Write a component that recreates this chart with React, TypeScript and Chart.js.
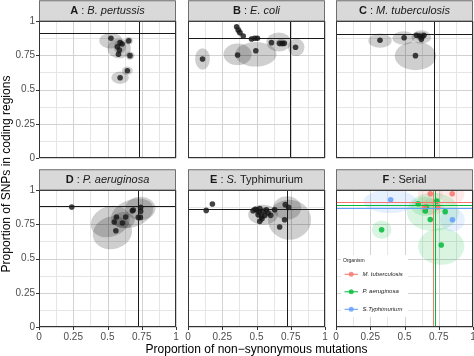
import React, { useEffect, useRef } from 'react';
import { Chart, registerables } from 'chart.js';
Chart.register(...registerables);

const FONT = '"Liberation Sans", Arial, Helvetica, sans-serif';
const PAGE_W = 474;
const PAGE_H = 356;
const COL_LEFT = [39, 188, 336];
const ROW_TOP = [21, 190];
const PANEL_W = 137;
const PANEL_H = 137;
const STRIP_H = 20.7;

const xTickLabels = ['0', '0.25', '0.5', '0.75', '1'];
const yTickLabels = ['0', '0.25', '0.5', '0.75', '1'];
const gridValues = [0, 0.125, 0.25, 0.375, 0.5, 0.625, 0.75, 0.875, 1];

// ellipse rows: [centerX, centerY, radiusX, radiusY, rotationDeg]
// reference rows: [vertical x, horizontal y]

// A: B. pertussis
const pertussisX = [0.525, 0.592, 0.607, 0.655, 0.573, 0.587, 0.58, 0.664, 0.645, 0.592];
const pertussisY = [0.874, 0.842, 0.832, 0.856, 0.812, 0.788, 0.757, 0.747, 0.637, 0.586];
const pertussisEll = [
  [0.525, 0.856, 0.085, 0.057, 0], [0.585, 0.8, 0.085, 0.073, 0], [0.59, 0.81, 0.045, 0.05, 0],
  [0.655, 0.856, 0.03, 0.028, 0], [0.664, 0.747, 0.033, 0.03, 0], [0.645, 0.637, 0.04, 0.03, 0],
  [0.592, 0.586, 0.064, 0.045, 0],
];
const pertussisRef = [0.73, 0.91];

// B: E. coli
const coliX = [0.355, 0.367, 0.379, 0.403, 0.464, 0.488, 0.507, 0.609, 0.669, 0.688, 0.703, 0.785, 0.495, 0.362, 0.106];
const coliY = [0.958, 0.934, 0.915, 0.891, 0.869, 0.874, 0.874, 0.842, 0.837, 0.837, 0.837, 0.808, 0.783, 0.752, 0.723];
const coliEll = [
  [0.106, 0.723, 0.054, 0.079, 0], [0.362, 0.757, 0.103, 0.079, 0], [0.495, 0.757, 0.151, 0.09, 0],
  [0.662, 0.847, 0.09, 0.069, 0], [0.79, 0.808, 0.06, 0.064, 0], [0.37, 0.93, 0.025, 0.045, -30],
  [0.48, 0.872, 0.04, 0.02, 0], [0.68, 0.84, 0.04, 0.03, 0],
];
const coliRef = [0.746, 0.878];

// C: M. tuberculosis
const tbX = [0.321, 0.497, 0.587, 0.611, 0.628, 0.642, 0.623, 0.58];
const tbY = [0.859, 0.878, 0.896, 0.891, 0.883, 0.896, 0.866, 0.747];
const tbEll = [
  [0.321, 0.856, 0.085, 0.052, 0], [0.493, 0.876, 0.082, 0.049, 0], [0.623, 0.883, 0.072, 0.049, 0],
  [0.58, 0.745, 0.151, 0.104, 0], [0.615, 0.89, 0.04, 0.03, 0],
];
const tbRef = [0.712, 0.903];

// D: P. aeruginosa
const aeruX = [0.239, 0.565, 0.549, 0.609, 0.633, 0.561, 0.681, 0.742, 0.742, 0.725, 0.74, 0.688];
const aeruY = [0.876, 0.803, 0.766, 0.759, 0.803, 0.703, 0.849, 0.873, 0.844, 0.8, 0.8, 0.854];
const aeruEll = [
  [0.536, 0.688, 0.145, 0.119, -15], [0.52, 0.77, 0.147, 0.11, -20], [0.68, 0.83, 0.16, 0.1, -20],
  [0.74, 0.865, 0.11, 0.085, 0], [0.62, 0.78, 0.08, 0.06, 0],
];
const aeruRef = [0.725, 0.882];

// E: S. Typhimurium
const typhiX = [0.133, 0.178, 0.475, 0.5, 0.524, 0.548, 0.572, 0.584, 0.512, 0.536, 0.56, 0.604, 0.633, 0.71, 0.734, 0.705, 0.669, 0.49, 0.52, 0.524, 0.54];
const typhiY = [0.851, 0.898, 0.849, 0.856, 0.864, 0.844, 0.856, 0.832, 0.82, 0.807, 0.815, 0.815, 0.856, 0.893, 0.873, 0.783, 0.73, 0.86, 0.84, 0.771, 0.79];
const typhiEll = [
  [0.741, 0.783, 0.157, 0.146, 0], [0.723, 0.869, 0.103, 0.085, 0], [0.548, 0.82, 0.109, 0.073, 0],
  [0.55, 0.83, 0.06, 0.04, 0],
];
const typhiRef = [0.722, 0.858];

// F: Serial
const serialTbX = [0.688, 0.848, 0.647, 0.743];
const serialTbY = [0.973, 0.973, 0.876, 0.876];
const serialTbEll = [[0.688, 0.97, 0.09, 0.09, 0], [0.848, 0.97, 0.09, 0.08, 0], [0.7, 0.876, 0.09, 0.06, 0]];
const serialTbRef = [0.705, 0.913];

const serialAeruX = [0.6, 0.66, 0.736, 0.652, 0.797, 0.688, 0.333, 0.768];
const serialAeruY = [0.9, 0.876, 0.92, 0.847, 0.842, 0.785, 0.71, 0.599];
const serialAeruEll = [
  [0.768, 0.588, 0.169, 0.134, 0], [0.333, 0.71, 0.072, 0.067, 0], [0.707, 0.84, 0.19, 0.14, 0],
  [0.65, 0.88, 0.1, 0.07, 0],
];
const serialAeruRef = [0.722, 0.89];

const serialTyphiX = [0.399, 0.85];
const serialTyphiY = [0.929, 0.783];
const serialTyphiEll = [[0.393, 0.917, 0.193, 0.085, 0], [0.85, 0.783, 0.09, 0.085, 0]];
const serialTyphiRef = [null, 0.867];

const organisms = ['M. tuberculosis', 'P. aeruginosa', 'S.Typhimurium'];
const organismColors = ['248,118,109', '0,186,56', '97,156,255'];

type Seg = { t: string; b?: boolean; i?: boolean };
type Series = { x: number[]; y: number[]; ell: number[][]; ref: (number | null)[]; rgb: string; label?: string; lineColor: string };
type PanelDef = { col: number; row: number; strip: Seg[]; series: Series[]; legend?: boolean };

const gray = (x: number[], y: number[], ell: number[][], ref: (number | null)[]): Series => ({
  x, y, ell, ref, rgb: '0,0,0', lineColor: '#1a1a1a',
});

const panels: PanelDef[] = [
  { col: 0, row: 0, strip: [{ t: 'A', b: true }, { t: ' : ' }, { t: 'B. pertussis', i: true }], series: [gray(pertussisX, pertussisY, pertussisEll, pertussisRef)] },
  { col: 1, row: 0, strip: [{ t: 'B', b: true }, { t: ' : ' }, { t: 'E. coli', i: true }], series: [gray(coliX, coliY, coliEll, coliRef)] },
  { col: 2, row: 0, strip: [{ t: 'C', b: true }, { t: ' : ' }, { t: 'M. tuberculosis', i: true }], series: [gray(tbX, tbY, tbEll, tbRef)] },
  { col: 0, row: 1, strip: [{ t: 'D', b: true }, { t: ' : ' }, { t: 'P. aeruginosa', i: true }], series: [gray(aeruX, aeruY, aeruEll, aeruRef)] },
  { col: 1, row: 1, strip: [{ t: 'E', b: true }, { t: ' : ' }, { t: 'S.', i: true }, { t: ' Typhimurium' }], series: [gray(typhiX, typhiY, typhiEll, typhiRef)] },
  {
    col: 2, row: 1, legend: true,
    strip: [{ t: 'F', b: true }, { t: ' : ' }, { t: 'Serial' }],
    series: [
      { x: serialTbX, y: serialTbY, ell: serialTbEll, ref: serialTbRef, rgb: organismColors[0], label: organisms[0], lineColor: 'rgb(248,118,109)' },
      { x: serialAeruX, y: serialAeruY, ell: serialAeruEll, ref: serialAeruRef, rgb: organismColors[1], label: organisms[1], lineColor: 'rgb(0,186,56)' },
      { x: serialTyphiX, y: serialTyphiY, ell: serialTyphiEll, ref: serialTyphiRef, rgb: organismColors[2], label: organisms[2], lineColor: 'rgb(97,156,255)' },
    ],
  },
];

function segFont(s: Seg, size: number) {
  return `${s.i ? 'italic ' : ''}${s.b ? 'bold ' : ''}${size}px ${FONT}`;
}

const isMajor = (v: number) => Math.abs(v * 4 - Math.round(v * 4)) < 1e-6;

function makeChart(canvas: HTMLCanvasElement, p: PanelDef) {
  const showY = p.col === 0;
  const showX = p.row === 1;
  const yW = showY ? COL_LEFT[0] : 0;
  const xH = showX ? 16 : 0;
  const padding = {
    left: COL_LEFT[p.col] - yW,
    top: ROW_TOP[p.row],
    right: PAGE_W - COL_LEFT[p.col] - PANEL_W,
    bottom: PAGE_H - ROW_TOP[p.row] - PANEL_H - xH,
  };
  const isGray = p.series.length === 1;

  const deco = {
    id: 'deco',
    beforeDatasetsDraw(chart: any) {
      const ctx: CanvasRenderingContext2D = chart.ctx;
      const a = chart.chartArea;
      const xs = chart.scales.x, ys = chart.scales.y;
      ctx.save();
      ctx.setLineDash([]);
      ctx.globalAlpha = 1;
      ctx.globalCompositeOperation = 'source-over';
      // grid lines (minor first, then major)
      [false, true].forEach((major) => {
        ctx.strokeStyle = major ? '#D2D2D2' : '#E6E6E6';
        ctx.lineWidth = 1;
        gridValues.forEach((v) => {
          if (isMajor(v) !== major) return;
          const x = Math.round(xs.getPixelForValue(v)) + 0.5;
          ctx.beginPath(); ctx.moveTo(x, a.top); ctx.lineTo(x, a.bottom); ctx.stroke();
          const y = Math.round(ys.getPixelForValue(v)) + 0.5;
          ctx.beginPath(); ctx.moveTo(a.left, y); ctx.lineTo(a.right, y); ctx.stroke();
        });
      });
      // ellipses
      ctx.beginPath();
      ctx.rect(a.left, a.top, a.right - a.left, a.bottom - a.top);
      ctx.clip();
      p.series.forEach((s) => {
        ctx.fillStyle = isGray ? 'rgba(0,0,0,0.19)' : `rgba(${s.rgb},0.15)`;
        s.ell.forEach(([cx, cy, rx, ry, rot]) => {
          const px = xs.getPixelForValue(cx);
          const py = ys.getPixelForValue(cy);
          const prx = Math.abs(xs.getPixelForValue(cx + rx) - px);
          const pry = Math.abs(ys.getPixelForValue(cy + ry) - py);
          ctx.beginPath();
          ctx.ellipse(px, py, prx, pry, (rot * Math.PI) / 180, 0, Math.PI * 2);
          ctx.fill();
        });
      });
      ctx.restore();
    },
    afterDatasetsDraw(chart: any) {
      const ctx: CanvasRenderingContext2D = chart.ctx;
      const a = chart.chartArea;
      const scales = chart.scales;
      ctx.save();
      ctx.beginPath();
      ctx.rect(a.left, a.top, a.right - a.left, a.bottom - a.top);
      ctx.clip();
      ctx.lineWidth = 1;
      p.series.forEach((s) => {
        ctx.strokeStyle = s.lineColor;
        const [vx, hy] = s.ref;
        if (hy != null) {
          const y = Math.round(scales.y.getPixelForValue(hy)) + 0.5;
          ctx.beginPath(); ctx.moveTo(a.left, y); ctx.lineTo(a.right, y); ctx.stroke();
        }
        if (vx != null) {
          const x = Math.round(scales.x.getPixelForValue(vx)) + 0.5;
          ctx.beginPath(); ctx.moveTo(x, a.top); ctx.lineTo(x, a.bottom); ctx.stroke();
        }
      });
      ctx.restore();
    },
    afterDraw(chart: any) {
      const ctx: CanvasRenderingContext2D = chart.ctx;
      const a = chart.chartArea;
      const scales = chart.scales;
      ctx.save();
      if (p.legend) {
        const lx = a.left + 5, ly = a.top + 65, lw = 67, lh = 62;
        ctx.fillStyle = '#ffffff';
        ctx.fillRect(lx, ly, lw, lh);
        ctx.fillStyle = '#1a1a1a';
        ctx.textBaseline = 'middle';
        ctx.textAlign = 'left';
        ctx.font = `5px ${FONT}`;
        ctx.fillText('Organism', lx + 2, ly + 6);
        p.series.forEach((s, k) => {
          const yy = ly + 19.3 + k * 17.5;
          ctx.strokeStyle = s.lineColor;
          ctx.lineWidth = 1;
          ctx.beginPath(); ctx.moveTo(lx + 3.5, yy); ctx.lineTo(lx + 17, yy); ctx.stroke();
          ctx.fillStyle = `rgba(${s.rgb},0.8)`;
          ctx.beginPath(); ctx.arc(lx + 10.2, yy, 2.5, 0, Math.PI * 2); ctx.fill();
          ctx.fillStyle = '#1a1a1a';
          ctx.font = `italic 6px ${FONT}`;
          ctx.fillText(s.label || '', lx + 21.5, yy);
        });
      }
      // axis tick marks (major only)
      ctx.strokeStyle = '#333333';
      ctx.lineWidth = 1;
      gridValues.forEach((v) => {
        if (!isMajor(v)) return;
        if (showX) {
          const x = Math.round(scales.x.getPixelForValue(v)) + 0.5;
          ctx.beginPath(); ctx.moveTo(x, a.bottom); ctx.lineTo(x, a.bottom + 3); ctx.stroke();
        }
        if (showY) {
          const y = Math.round(scales.y.getPixelForValue(v)) + 0.5;
          ctx.beginPath(); ctx.moveTo(a.left - 3, y); ctx.lineTo(a.left, y); ctx.stroke();
        }
      });
      // panel border
      ctx.strokeRect(a.left + 0.5, a.top + 0.5, a.right - a.left - 1, a.bottom - a.top - 1);
      // strip
      const sTop = a.top - STRIP_H;
      ctx.fillStyle = '#D9D9D9';
      ctx.fillRect(a.left, sTop, a.right - a.left, STRIP_H);
      ctx.strokeStyle = '#555555';
      ctx.lineWidth = 0.8;
      ctx.strokeRect(a.left + 0.5, sTop + 0.5, a.right - a.left - 1, STRIP_H - 0.5);
      const size = 11;
      let total = 0;
      p.strip.forEach((s) => { ctx.font = segFont(s, size); total += ctx.measureText(s.t).width; });
      let x = (a.left + a.right) / 2 - total / 2;
      ctx.fillStyle = '#1a1a1a';
      ctx.textBaseline = 'middle';
      ctx.textAlign = 'left';
      p.strip.forEach((s) => {
        ctx.font = segFont(s, size);
        ctx.fillText(s.t, x, sTop + STRIP_H / 2 + 0.5);
        x += ctx.measureText(s.t).width;
      });
      ctx.restore();
    },
  };

  const datasets = p.series.map((s) => ({
    type: 'scatter' as const,
    data: s.x.map((v, i) => ({ x: v, y: s.y[i] })),
    backgroundColor: isGray ? 'rgba(20,20,20,0.8)' : `rgba(${s.rgb},0.85)`,
    pointRadius: 2.8,
    pointBorderWidth: 0,
    borderWidth: 0,
  }));

  return new Chart(canvas, {
    type: 'scatter',
    data: { datasets },
    plugins: [deco],
    options: {
      responsive: false,
      animation: false,
      devicePixelRatio: 1,
      events: [],
      layout: { padding, autoPadding: false } as any,
      plugins: { legend: { display: false }, tooltip: { enabled: false }, title: { display: false } },
      scales: {
        x: {
          type: 'linear', min: 0, max: 1, position: 'bottom',
          afterFit: (s: any) => { s.height = xH; s.paddingLeft = 0; s.paddingRight = 0; s.paddingTop = 0; s.paddingBottom = 0; },
          ticks: {
            display: showX, stepSize: 0.125, autoSkip: false, maxRotation: 0, minRotation: 0, padding: 4,
            color: '#4D4D4D', font: { family: FONT, size: 10 },
            callback: (_v: any, i: number) => (i % 2 === 0 ? xTickLabels[i / 2] : ''),
          },
          grid: { display: false, drawTicks: false },
          border: { display: false },
        },
        y: {
          type: 'linear', min: 0, max: 1, position: 'left',
          afterFit: (s: any) => { s.width = yW; s.paddingLeft = 0; s.paddingRight = 0; s.paddingTop = 0; s.paddingBottom = 0; },
          ticks: {
            display: showY, stepSize: 0.125, autoSkip: false, padding: 4,
            color: '#4D4D4D', font: { family: FONT, size: 10 },
            callback: (_v: any, i: number) => (i % 2 === 0 ? yTickLabels[i / 2] : ''),
          },
          grid: { display: false, drawTicks: false },
          border: { display: false },
        },
      },
    } as any,
  });
}

function PanelCanvas({ p }: { p: PanelDef }) {
  const ref = useRef<HTMLCanvasElement | null>(null);
  useEffect(() => {
    if (!ref.current) return;
    const c = makeChart(ref.current, p);
    return () => c.destroy();
  }, [p]);
  return (
    <canvas
      ref={ref}
      width={PAGE_W}
      height={PAGE_H}
      style={{ position: 'absolute', left: 0, top: 0, width: PAGE_W, height: PAGE_H }}
    />
  );
}

export default function App() {
  return (
    <div style={{ position: 'fixed', left: 0, top: 0, width: PAGE_W, height: PAGE_H, background: '#ffffff', overflow: 'hidden' }}>
      {panels.map((p, i) => (
        <PanelCanvas key={i} p={p} />
      ))}
      <div
        style={{
          position: 'absolute', left: 39, width: 435, top: 342, textAlign: 'center',
          font: `12px ${FONT}`, lineHeight: '14px', color: '#000', whiteSpace: 'nowrap',
        }}
      >
        Proportion of non−synonymous mutations
      </div>
      <div
        style={{
          position: 'absolute', left: 6.3 - 153, top: 174 - 7, width: 306, height: 14, textAlign: 'center',
          font: `12px ${FONT}`, lineHeight: '14px', color: '#000', whiteSpace: 'nowrap',
          transform: 'rotate(-90deg)', transformOrigin: '50% 50%',
        }}
      >
        Proportion of SNPs in coding regions
      </div>
    </div>
  );
}
